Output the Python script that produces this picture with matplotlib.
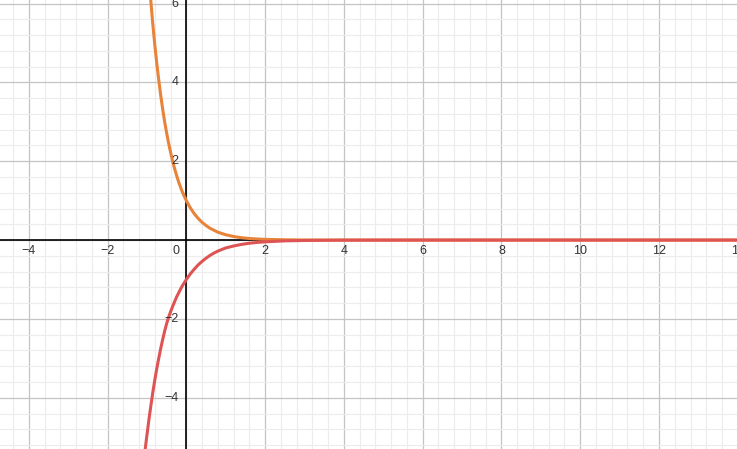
import matplotlib
matplotlib.use("Agg")
import matplotlib.pyplot as plt
from matplotlib.ticker import MultipleLocator

# Values
orange_x = [-0.95, -0.9, -0.85, -0.8, -0.75, -0.7, -0.65, -0.6, -0.55, -0.5, -0.45, -0.4, -0.35, -0.3,
            -0.25, -0.2, -0.15, -0.1, -0.05, 0.0, 0.1, 0.2, 0.3, 0.4, 0.5, 0.6, 0.7, 0.8, 1.0, 1.2,
            1.4, 1.6, 1.8, 2.0, 2.5, 3.0, 4.0, 6.0, 10.0, 14.5]
orange_y = [6.69, 6.05, 5.47, 4.95, 4.48, 4.06, 3.67, 3.32, 3.00, 2.72, 2.46, 2.23, 2.01, 1.82,
            1.65, 1.49, 1.35, 1.22, 1.11, 1.00, 0.82, 0.67, 0.55, 0.45, 0.37, 0.30, 0.25, 0.20, 0.135, 0.09,
            0.06, 0.04, 0.027, 0.018, 0.007, 0.002, 0.0, 0.0, 0.0, 0.0]

red_x = [-1.1, -1.05, -1.0, -0.95, -0.9, -0.85, -0.8, -0.75, -0.7, -0.65, -0.6, -0.55, -0.5, -0.45,
         -0.4, -0.35, -0.3, -0.25, -0.2, -0.15, -0.1, -0.05, 0.0, 0.1, 0.2, 0.3, 0.4, 0.5, 0.6, 0.7,
         0.8, 1.0, 1.2, 1.4, 1.6, 1.8, 2.0, 2.5, 3.0, 4.0, 6.0, 10.0, 14.5]
red_y = [-5.75, -5.35, -4.95, -4.56, -4.20, -3.86, -3.55, -3.26, -3.00, -2.75, -2.52, -2.31, -2.12, -1.96,
         -1.82, -1.69, -1.57, -1.45, -1.35, -1.25, -1.16, -1.08, -1.00, -0.86, -0.74, -0.63, -0.54, -0.46, -0.39, -0.33,
         -0.28, -0.20, -0.15, -0.11, -0.08, -0.06, -0.045, -0.02, -0.01, -0.002, 0.0, 0.0, 0.0]

x_labels = [-4, -2, 0, 2, 4, 6, 8, 10, 12, 14]
y_labels = [-4, -2, 2, 4, 6]

fig = plt.figure(figsize=(7.37, 4.49), dpi=100)
ax = fig.add_axes([0, 0, 1, 1])
ax.set_xlim(-4.73, 13.98)
ax.set_ylim(-5.30, 6.09)

ax.xaxis.set_major_locator(MultipleLocator(2))
ax.yaxis.set_major_locator(MultipleLocator(2))
ax.xaxis.set_minor_locator(MultipleLocator(0.4))
ax.yaxis.set_minor_locator(MultipleLocator(0.4))
ax.grid(which='minor', color='#ececec', lw=0.8, zorder=0)
ax.grid(which='major', color='#c4c4c4', lw=0.9, zorder=0.5)
ax.tick_params(which='both', length=0, labelbottom=False, labelleft=False)
for s in ax.spines.values():
    s.set_visible(False)

ax.axhline(0, color='black', lw=1.2, zorder=2)
ax.axvline(0, color='black', lw=1.2, zorder=2)

ax.plot(orange_x, orange_y, color='#e8833a', lw=2.2, zorder=3, solid_capstyle='round')
ax.plot(red_x, red_y, color='#de5454', lw=2.2, zorder=3, solid_capstyle='round')

font = dict(family=['Liberation Sans', 'DejaVu Sans'], fontsize=9, color='#333333')
for v in x_labels:
    lab = str(v).replace('-', '\u2212')
    dx = -10 if v == 0 else 0
    ax.annotate(lab, (v, 0), xytext=(dx, -11), textcoords='offset pixels',
                ha='center', va='center', zorder=4, annotation_clip=False, **font)
for v in y_labels:
    lab = str(v).replace('-', '\u2212')
    ax.annotate(lab, (0, v), xytext=(-8, 0), textcoords='offset pixels',
                ha='right', va='center', zorder=4, annotation_clip=False, **font)

fig.savefig('out.png', dpi=100)
